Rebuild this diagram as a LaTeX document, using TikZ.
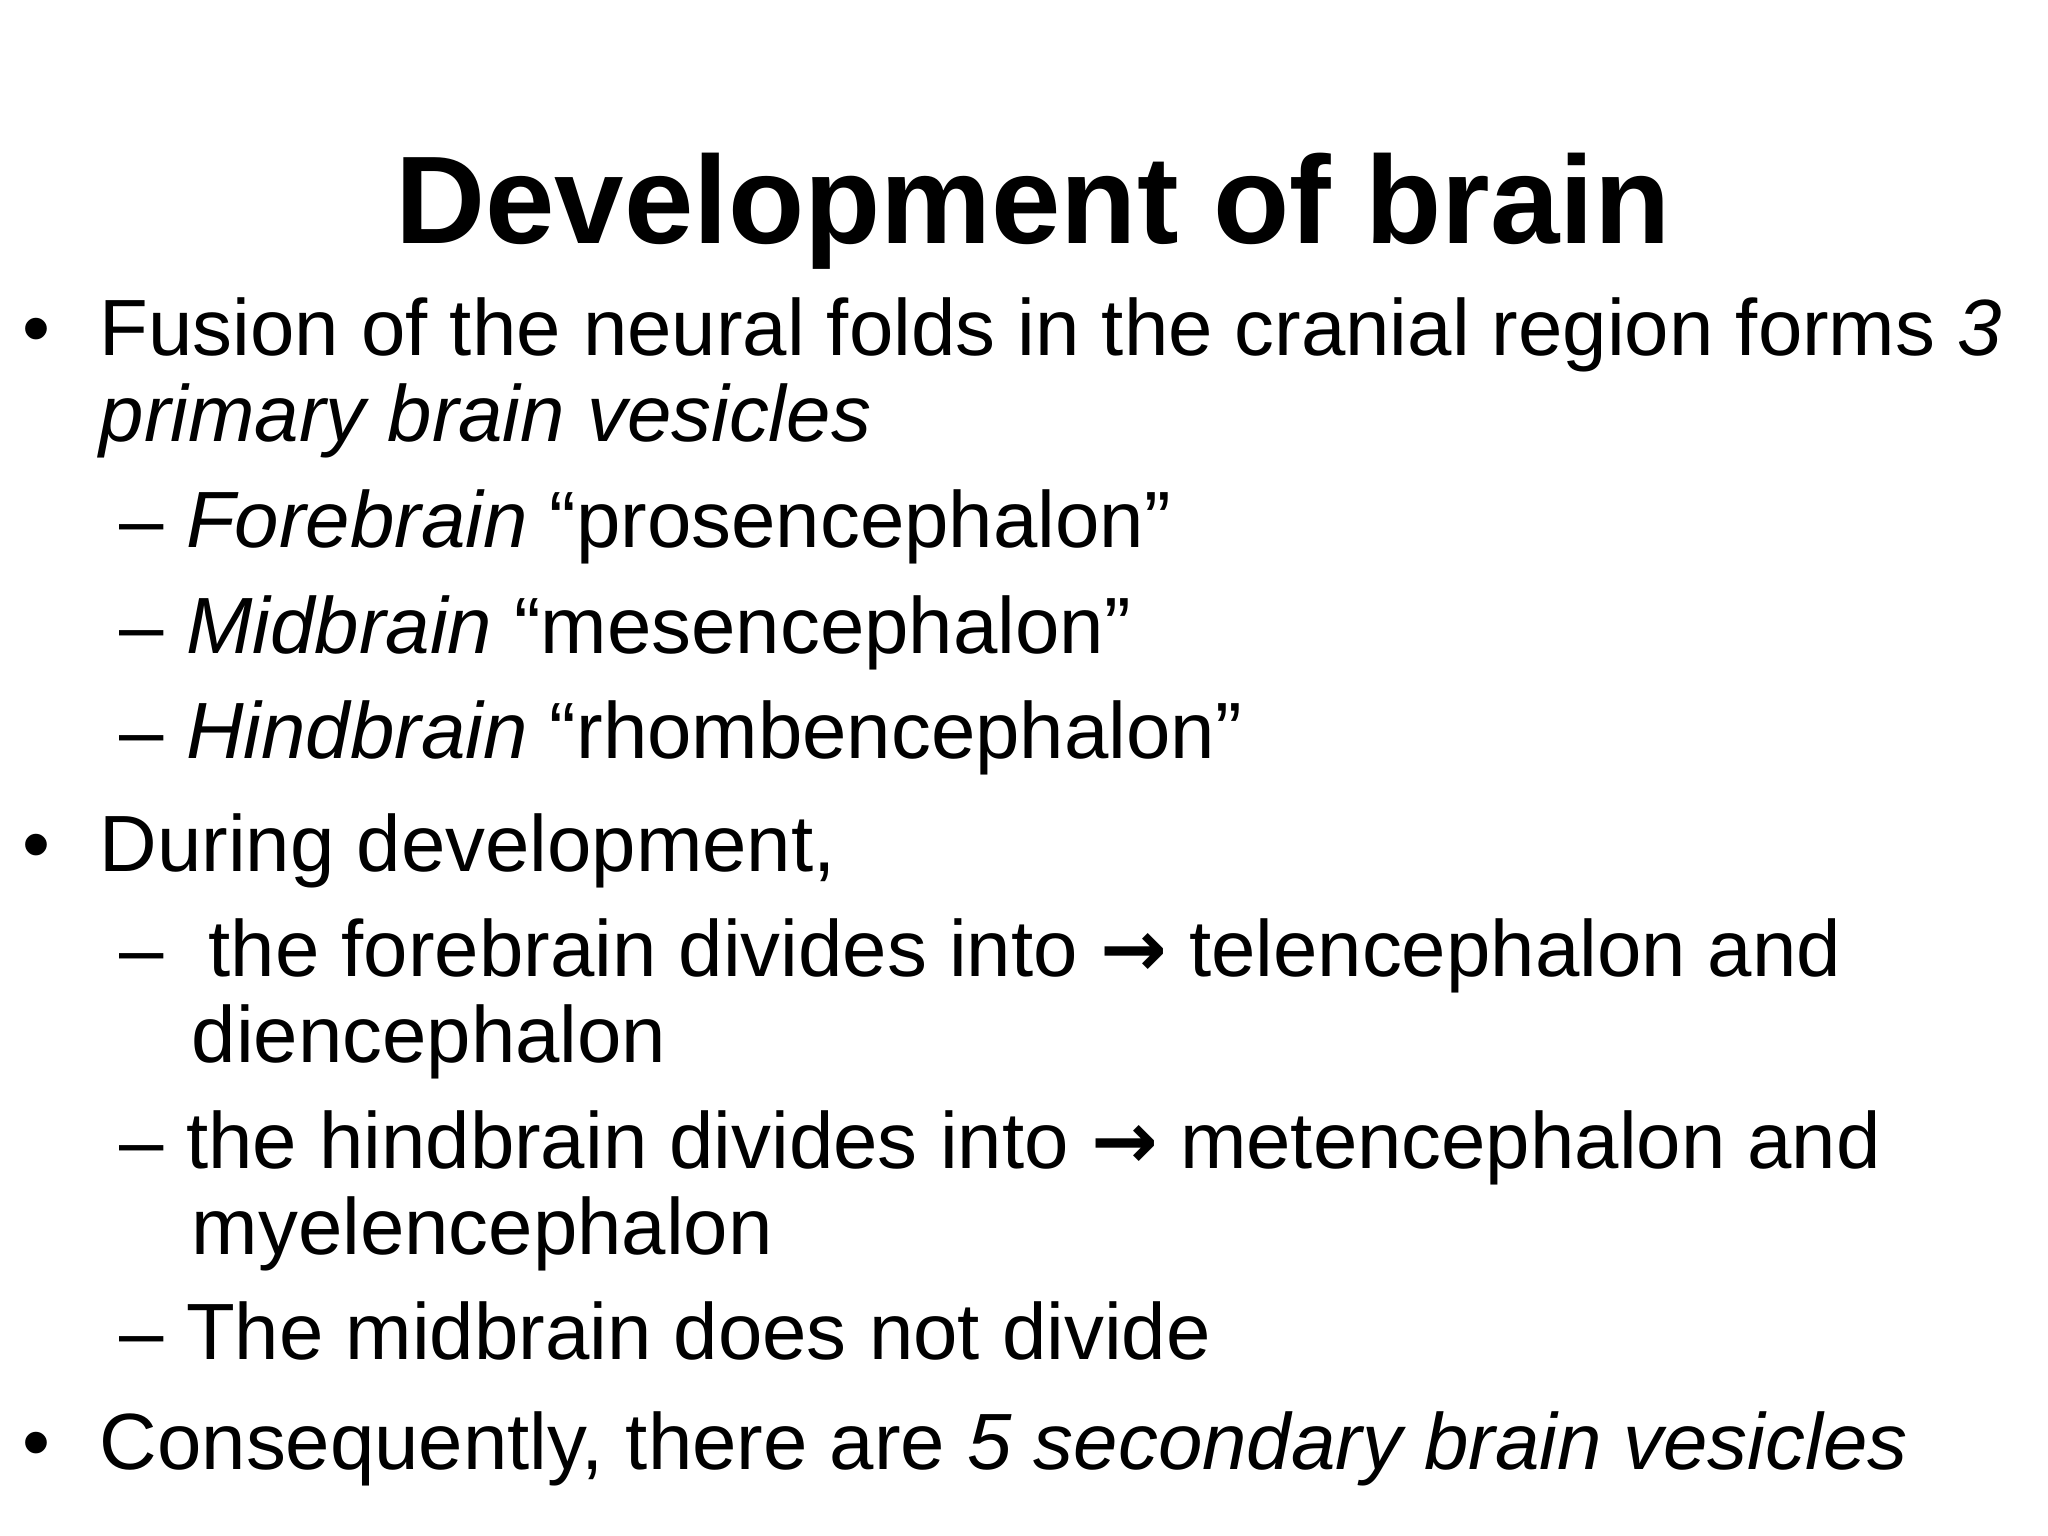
\documentclass[tikz,border=0pt]{standalone}
\usepackage{fontspec}
\setmainfont{Liberation Sans}
\newfontfamily\arrowfont{DejaVu Sans}
\begin{document}
\begin{tikzpicture}[x=1cm,y=1cm,
  txt/.style={anchor=base west,inner sep=0pt,font=\fontsize{22.7pt}{27pt}\selectfont},
  ttl/.style={anchor=base,inner sep=0pt,font=\fontsize{35.5pt}{42pt}\selectfont\bfseries}]
\useasboundingbox (0,0) rectangle (20.48,-15.36);
\newcommand{\arr}{{\arrowfont\bfseries →}}
\node[ttl] (title) at (10.33,-2.44) {Development of brain};
\node[txt] (b1) at (0.22,-3.56) {•};
\node[txt] (l1) at (0.99,-3.56) {Fusion of the neural folds in the cranial region forms \textit{3}};
\node[txt] (l2) at (0.99,-4.42) {\textit{primary brain vesicles}};
\node[txt] (l3) at (1.19,-5.48) {– \textit{Forebrain} “prosencephalon”};
\node[txt] (l4) at (1.19,-6.53) {– \textit{Midbrain} “mesencephalon”};
\node[txt] (l5) at (1.19,-7.59) {– \textit{Hindbrain} “rhombencephalon”};
\node[txt] (b2) at (0.22,-8.71) {•};
\node[txt] (l6) at (0.99,-8.71) {During development,};
\node[txt] (d7) at (1.19,-9.77) {–};
\node[txt] (l7) at (2.08,-9.77) {the forebrain divides into \arr\ telencephalon and};
\node[txt] (l8) at (1.91,-10.62) {diencephalon};
\node[txt] (l9) at (1.19,-11.68) {– the hindbrain divides into \arr\ metencephalon and};
\node[txt] (l10) at (1.91,-12.54) {myelencephalon};
\node[txt] (l11) at (1.19,-13.59) {– The midbrain does not divide};
\node[txt] (b3) at (0.22,-14.69) {•};
\node[txt] (l12) at (0.99,-14.69) {Consequently, there are \textit{5 secondary brain vesicles}};
\end{tikzpicture}
\end{document}
